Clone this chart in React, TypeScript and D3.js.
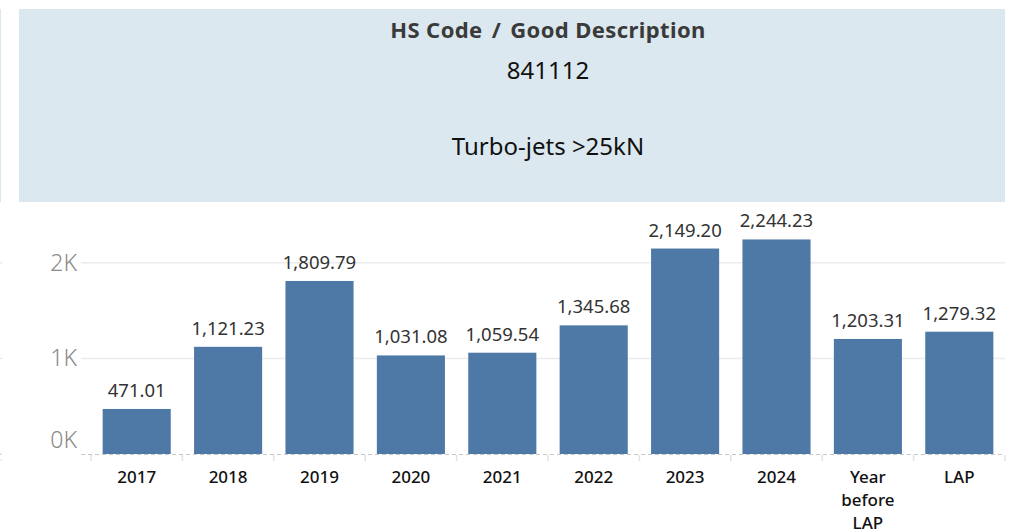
import React from "react";
import * as d3 from "d3";

const categories: string[] = ["2017", "2018", "2019", "2020", "2021", "2022", "2023", "2024", "Year before LAP", "LAP"];
const categoryLines: string[][] = [["2017"], ["2018"], ["2019"], ["2020"], ["2021"], ["2022"], ["2023"], ["2024"], ["Year", "before", "LAP"], ["LAP"]];
const values: number[] = [471.01, 1121.23, 1809.79, 1031.08, 1059.54, 1345.68, 2149.2, 2244.23, 1203.31, 1279.32];
const yTicks: number[] = [0, 1000, 2000];
const yTickLabels: string[] = ["0K", "1K", "2K"];
const titleParts: string[] = ["HS Code", "/", "Good Description"];
const hsCode = "841112";
const description = "Turbo-jets >25kN";

const W = 1015;
const H = 531;
const FONT = "'Noto Sans', 'Open Sans', sans-serif";

export default function App() {
  const x = d3.scaleBand<string>().domain(categories).range([91, 1005]).paddingInner(0.255).paddingOuter(0.1275);
  const y = d3.scaleLinear().domain([0, 1000]).range([454, 358.4]);
  const fmt = d3.format(",.2f");
  const step = x.step();
  const boundaries = categories.map((c) => (x(c) as number) - (step - x.bandwidth()) / 2);
  boundaries.push(boundaries[boundaries.length - 1] + step);

  return (
    <svg width={W} height={H} style={{ position: "absolute", left: 0, top: 0, fontFamily: FONT }}>
      <rect x={0} y={0} width={W} height={H} fill="#fff" />
      {/* header */}
      <rect x={19} y={9} width={986} height={193} fill="#dce8ef" />
      <rect x={0} y={9} width={1} height={193} fill="#dce8ef" />
      <text x={548} y={38} textAnchor="middle" fontSize={22} fontWeight={700} fill="#3a3a3a" letterSpacing={0.4}>
        {titleParts[0]}<tspan dx={9}>{titleParts[1]}</tspan><tspan dx={9}>{titleParts[2]}</tspan>
      </text>
      <text x={548} y={79} textAnchor="middle" fontSize={24} fill="#111">{hsCode}</text>
      <text x={548} y={155} textAnchor="middle" fontSize={24} fill="#111">{description}</text>

      {/* gridlines */}
      {yTicks.slice(1).map((t) => (
        <line key={t} x1={81} x2={1005} y1={y(t)} y2={y(t)} stroke="#ececec" strokeWidth={1.5} />
      ))}
      {/* left pane ticks */}
      {yTicks.map((t) => (
        <line key={"lt" + t} x1={0} x2={2} y1={y(t)} y2={y(t)} stroke="#ddd" strokeWidth={1} />
      ))}
      <line x1={0} x2={2} y1={460} y2={460} stroke="#ddd" />
      {/* y labels */}
      {yTicks.map((t, i) => (
        <text key={"yl" + t} x={77} y={t === 0 ? y(t) - 6 : y(t) + 8} textAnchor="end" fontSize={23} fontWeight={300} fill="#8a8a8a">
          {yTickLabels[i]}
        </text>
      ))}
      {/* bars */}
      {categories.map((c, i) => (
        <rect key={c} x={x(c)} y={y(values[i])} width={x.bandwidth()} height={y(0) - y(values[i])} fill="#4e79a7" />
      ))}
      {/* value labels */}
      {categories.map((c, i) => (
        <text key={"v" + c} x={(x(c) as number) + x.bandwidth() / 2} y={y(values[i]) - 12} textAnchor="middle" fontSize={18.5} fill="#333">
          {fmt(values[i])}
        </text>
      ))}
      {/* baseline */}
      <line x1={81} x2={1005} y1={454.5} y2={454.5} stroke="#c8c8c8" strokeDasharray="4,3" />
      {boundaries.map((b, i) => (
        <line key={"b" + i} x1={b} x2={b} y1={455} y2={461} stroke="#e2e2e2" strokeWidth={1.5} />
      ))}
      <line x1={0} x2={2} y1={454.5} y2={454.5} stroke="#ddd" />
      {/* x labels */}
      {categories.map((c, i) => (
        <text key={"x" + c} x={(x(c) as number) + x.bandwidth() / 2} y={483} textAnchor="middle" fontSize={17} fontWeight={500} fill="#111">
          {categoryLines[i].map((ln, j) => (
            <tspan key={j} x={(x(c) as number) + x.bandwidth() / 2} dy={j === 0 ? 0 : 23}>{ln}</tspan>
          ))}
        </text>
      ))}
    </svg>
  );
}
